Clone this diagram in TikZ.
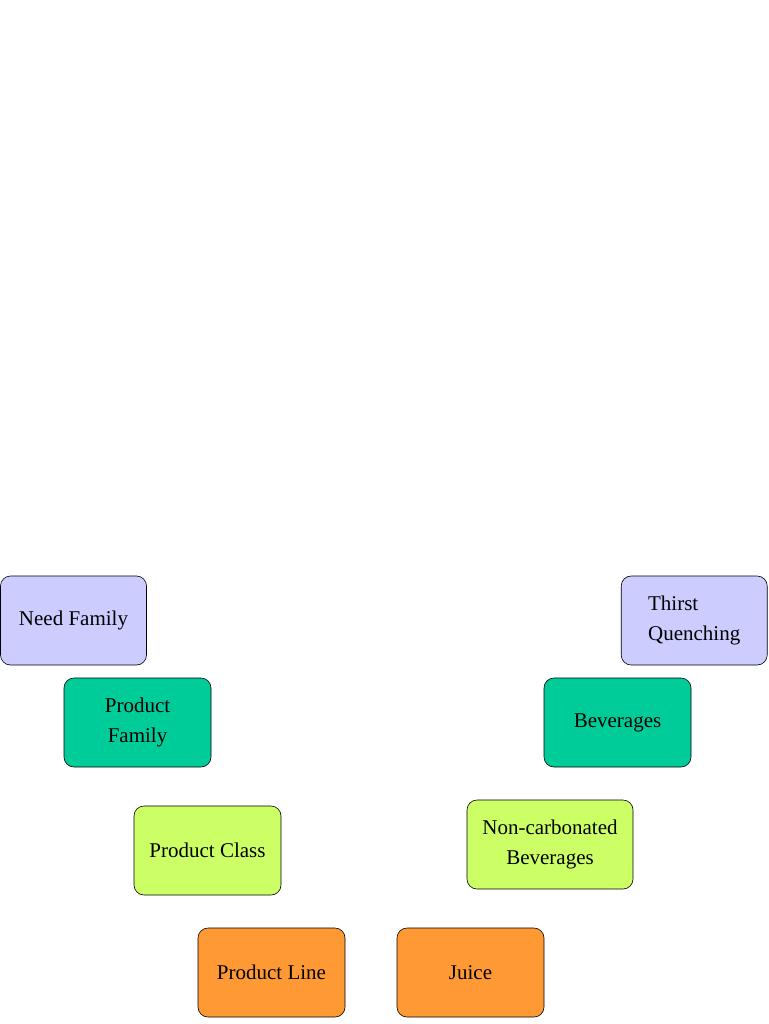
\documentclass[tikz,border=0pt]{standalone}
\usepackage{fontspec}
\setmainfont{Liberation Serif}
\begin{document}
\begin{tikzpicture}[x=1pt,y=-1pt,
 box/.style={draw=black,line width=0.6pt,rounded corners=10pt,inner sep=0pt,font=\fontsize{21}{30}\selectfont,align=center,minimum height=89pt},
 lav/.style={box,fill={rgb,255:red,204;green,204;blue,255}},
 grn/.style={box,fill={rgb,255:red,0;green,204;blue,153}},
 lim/.style={box,fill={rgb,255:red,204;green,255;blue,102}},
 org/.style={box,fill={rgb,255:red,255;green,153;blue,51}}]
\useasboundingbox (0,0) rectangle (768,1024);
\node[lav,minimum width=146pt] (nf) at (73.5,620.5) {Need Family};
\node[lav,minimum width=146pt,align=left] (tq) at (694.2,620.5) {Thirst\\Quenching};
\node[grn,minimum width=147pt] (pf) at (137.5,722.5) {Product\\Family};
\node[grn,minimum width=147pt] (bv) at (617.5,722.5) {Beverages};
\node[lim,minimum width=147pt] (pc) at (207.5,850.5) {Product Class};
\node[lim,minimum width=166pt] (nc) at (550,844.5) {Non-carbonated\\Beverages};
\node[org,minimum width=147pt] (pl) at (271.5,972.5) {Product Line};
\node[org,minimum width=147pt] (ju) at (470.5,972.5) {Juice};
\end{tikzpicture}
\end{document}
